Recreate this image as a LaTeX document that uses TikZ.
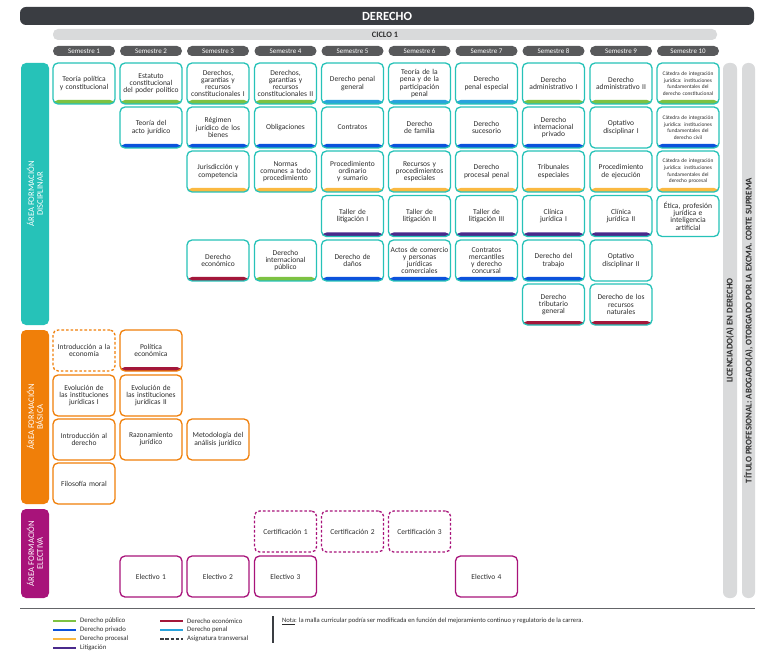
\documentclass[tikz,border=0pt]{standalone}
\usepackage{fontspec}
\setmainfont{Carlito}
\definecolor{TealC}{RGB}{38,194,184}
\definecolor{GreenC}{RGB}{125,194,66}
\definecolor{BlueC}{RGB}{12,82,220}
\definecolor{YellowC}{RGB}{251,185,65}
\definecolor{PurpleC}{RGB}{74,42,140}
\definecolor{RedC}{RGB}{163,23,58}
\definecolor{PenalC}{RGB}{41,163,220}
\definecolor{OrangeC}{RGB}{240,127,9}
\definecolor{MagC}{RGB}{168,19,122}
\definecolor{HeadC}{RGB}{58,61,66}
\definecolor{PillC}{RGB}{88,89,91}
\definecolor{BarC}{RGB}{217,218,219}
\definecolor{TextC}{RGB}{45,45,45}
\definecolor{LineC}{RGB}{100,101,104}
\begin{document}
\begin{tikzpicture}[x=1pt,y=-1pt,
  box/.style={draw=TealC, line width=1.3pt, rounded corners=5pt, fill=white,
    minimum width=62pt, minimum height=41pt, text width=61pt, inner sep=0.5pt,
    align=center, font=\fontsize{7.5}{7.1}\selectfont, text=TextC},
  obox/.style={box, draw=OrangeC},
  mbox/.style={box, draw=MagC},
  dashbox/.style={dash pattern=on 2.6pt off 2pt},
  small/.style={font=\fontsize{5.4}{6.7}\selectfont},
  strip/.style={path picture={\fill[#1] (path picture bounding box.south west) rectangle ([yshift=4pt]path picture bounding box.south east);}},
  sem/.style={fill=PillC, rounded corners=5pt, minimum width=62pt, minimum height=10pt,
    inner sep=0pt, text=white, font=\fontsize{7}{7}\selectfont},
  area/.style={rounded corners=5pt, minimum height=28pt, inner sep=0pt, rotate=90,
    text=white, align=center, font=\fontsize{8.6}{8.8}\selectfont},
  vbar/.style={fill=BarC, rounded corners=6pt, inner sep=0pt, rotate=90,
    text=TextC, font=\bfseries\fontsize{8.8}{9}\selectfont},
  leg/.style={anchor=west, inner sep=0pt, text=TextC, font=\fontsize{6.8}{7}\selectfont}
]
\useasboundingbox[fill=white] (0,0) rectangle (768,660);

% header
\node[fill=HeadC, rounded corners=6pt, minimum width=734pt, minimum height=18pt, inner sep=0pt,
  text=white, font=\bfseries\fontsize{12.5}{13}\selectfont] (head) at (387,16) {DERECHO};
\node[fill=BarC, rounded corners=5pt, minimum width=664pt, minimum height=11pt, inner sep=0pt,
  text=TextC, font=\bfseries\fontsize{8.3}{8.5}\selectfont] (ciclo) at (385,34.5) {CICLO 1};

% semesters
\node[sem] (s1) at (84,51) {Semestre 1};
\node[sem] (s2) at (151,51) {Semestre 2};
\node[sem] (s3) at (218,51) {Semestre 3};
\node[sem] (s4) at (285.5,51) {Semestre 4};
\node[sem] (s5) at (352.5,51) {Semestre 5};
\node[sem] (s6) at (419.5,51) {Semestre 6};
\node[sem] (s7) at (486.5,51) {Semestre 7};
\node[sem] (s8) at (553.5,51) {Semestre 8};
\node[sem] (s9) at (621,51) {Semestre 9};
\node[sem] (s10) at (688,51) {Semestre 10};

% area bars
\node[area, fill=TealC, minimum width=262pt] (adis) at (35,194) {ÁREA FORMACIÓN\\DISCIPLINAR};
\node[area, fill=OrangeC, minimum width=174pt] (abas) at (35,417) {ÁREA FORMACIÓN\\BÁSICA};
\node[area, fill=MagC, minimum width=89pt] (aele) at (35,553.5) {ÁREA FORMACIÓN\\ELECTIVA};

% right bars
\node[vbar, minimum width=535pt, minimum height=14pt] (lic) at (730,330.5) {LICENCIADO(A) EN DERECHO};
\node[vbar, minimum width=535pt, minimum height=13pt] (tit) at (748.5,330.5) {TÍTULO PROFESIONAL: ABOGADO(A), OTORGADO POR LA EXCMA. CORTE SUPREMA};

% row 1
\node[box, strip=GreenC] (d11) at (84,83.5) {Teoría política\\y constitucional};
\node[box, strip=GreenC] (d12) at (151,83.5) {Estatuto\\constitucional\\del poder político};
\node[box, strip=GreenC] (d13) at (218,83.5) {Derechos,\\garantías y\\recursos\\constitucionales I};
\node[box, strip=GreenC] (d14) at (285.5,83.5) {Derechos,\\garantías y\\recursos\\constitucionales II};
\node[box, strip=PenalC] (d15) at (352.5,83.5) {Derecho penal\\general};
\node[box, strip=PenalC] (d16) at (419.5,83.5) {Teoría de la\\pena y de la\\participación\\penal};
\node[box, strip=PenalC] (d17) at (486.5,83.5) {Derecho\\penal especial};
\node[box, strip=GreenC] (d18) at (553.5,83.5) {Derecho\\administrativo I};
\node[box, strip=GreenC] (d19) at (621,83.5) {Derecho\\administrativo II};
\node[box, small, strip=GreenC] (d110) at (688,83.5) {Cátedra de integración\\jurídica: instituciones\\fundamentales del\\derecho constitucional};

% row 2
\node[box, strip=BlueC] (d22) at (151,127.5) {Teoría del\\acto jurídico};
\node[box, strip=BlueC] (d23) at (218,127.5) {Régimen\\jurídico de los\\bienes};
\node[box, strip=BlueC] (d24) at (285.5,127.5) {Obligaciones};
\node[box, strip=BlueC] (d25) at (352.5,127.5) {Contratos};
\node[box, strip=BlueC] (d26) at (419.5,127.5) {Derecho\\de familia};
\node[box, strip=BlueC] (d27) at (486.5,127.5) {Derecho\\sucesorio};
\node[box, strip=BlueC] (d28) at (553.5,127.5) {Derecho\\internacional\\privado};
\node[box] (d29) at (621,127.5) {Optativo\\disciplinar I};
\node[box, small, strip=BlueC] (d210) at (688,127.5) {Cátedra de integración\\jurídica: instituciones\\fundamentales del\\derecho civil};

% row 3
\node[box, strip=YellowC] (d33) at (218,171.5) {Jurisdicción y\\competencia};
\node[box, strip=YellowC] (d34) at (285.5,171.5) {Normas\\comunes a todo\\procedimiento};
\node[box, strip=YellowC] (d35) at (352.5,171.5) {Procedimiento\\ordinario\\y sumario};
\node[box, strip=YellowC] (d36) at (419.5,171.5) {Recursos y\\procedimientos\\especiales};
\node[box, strip=YellowC] (d37) at (486.5,171.5) {Derecho\\procesal penal};
\node[box, strip=YellowC] (d38) at (553.5,171.5) {Tribunales\\especiales};
\node[box, strip=YellowC] (d39) at (621,171.5) {Procedimiento\\de ejecución};
\node[box, small, strip=YellowC] (d310) at (688,171.5) {Cátedra de integración\\jurídica: instituciones\\fundamentales del\\derecho procesal};

% row 4
\node[box, strip=PurpleC] (d45) at (352.5,216) {Taller de\\litigación I};
\node[box, strip=PurpleC] (d46) at (419.5,216) {Taller de\\litigación II};
\node[box, strip=PurpleC] (d47) at (486.5,216) {Taller de\\litigación III};
\node[box, strip=PurpleC] (d48) at (553.5,216) {Clínica\\jurídica I};
\node[box, strip=PurpleC] (d49) at (621,216) {Clínica\\jurídica II};
\node[box, font=\fontsize{7.6}{7.4}\selectfont] (d410) at (688,216) {Ética, profesión\\jurídica e\\inteligencia\\artificial};

% row 5
\node[box, strip=RedC] (d53) at (218,260.5) {Derecho\\económico};
\node[box, strip=GreenC] (d54) at (285.5,260.5) {Derecho\\internacional\\público};
\node[box, strip=BlueC] (d55) at (352.5,260.5) {Derecho de\\daños};
\node[box, strip=BlueC] (d56) at (419.5,260.5) {Actos de comercio\\y personas\\jurídicas\\comerciales};
\node[box, strip=BlueC] (d57) at (486.5,260.5) {Contratos\\mercantiles\\y derecho\\concursal};
\node[box, strip=BlueC] (d58) at (553.5,260.5) {Derecho del\\trabajo};
\node[box] (d59) at (621,260.5) {Optativo\\disciplinar II};

% row 6
\node[box, strip=RedC] (d68) at (553.5,304.5) {Derecho\\tributario\\general};
\node[box, strip=RedC] (d69) at (621,304.5) {Derecho de los\\recursos\\naturales};

% basic area
\node[obox, dashbox] (b11) at (84,350.5) {Introducción a la\\economía};
\node[obox, strip=RedC] (b12) at (151,350.5) {Política\\económica};
\node[obox] (b21) at (84,395.5) {Evolución de\\las instituciones\\jurídicas I};
\node[obox] (b22) at (151,395.5) {Evolución de\\las instituciones\\jurídicas II};
\node[obox] (b31) at (84,439.5) {Introducción al\\derecho};
\node[obox] (b32) at (151,439.5) {Razonamiento\\jurídico};
\node[obox] (b33) at (218,439.5) {Metodología del\\análisis jurídico};
\node[obox] (b41) at (84,483.5) {Filosofía moral};

% elective area
\node[mbox, dashbox] (e14) at (285.5,531.5) {Certificación 1};
\node[mbox, dashbox] (e15) at (352.5,531.5) {Certificación 2};
\node[mbox, dashbox] (e16) at (419.5,531.5) {Certificación 3};
\node[mbox] (e22) at (151,576.5) {Electivo 1};
\node[mbox] (e23) at (218,576.5) {Electivo 2};
\node[mbox] (e24) at (285.5,576.5) {Electivo 3};
\node[mbox] (e27) at (486.5,576.5) {Electivo 4};

% separator
\draw[LineC, line width=1pt] (20,608.5) -- (755,608.5);

% legend
\draw[GreenC, line width=1.8pt] (53,621) -- (76,621);
\node[leg] (l1) at (80,621) {Derecho público};
\draw[BlueC, line width=1.8pt] (53,630) -- (76,630);
\node[leg] (l2) at (80,630) {Derecho privado};
\draw[YellowC, line width=1.8pt] (53,639) -- (76,639);
\node[leg] (l3) at (80,639) {Derecho procesal};
\draw[PurpleC, line width=1.8pt] (53,648) -- (76,648);
\node[leg] (l4) at (80,648) {Litigación};
\draw[RedC, line width=1.8pt] (160,621) -- (183,621);
\node[leg] (l5) at (187,621) {Derecho económico};
\draw[PenalC, line width=1.8pt] (160,630) -- (183,630);
\node[leg] (l6) at (187,630) {Derecho penal};
\draw[HeadC, line width=1.8pt, dash pattern=on 3.5pt off 1.8pt] (160,639) -- (183,639);
\node[leg] (l7) at (187,639) {Asignatura transversal};

\draw[HeadC, line width=1.6pt] (273,616) -- (273,643);
\node[leg, font=\fontsize{6.6}{7}\selectfont] (nota) at (282,621) {\underline{Nota}: la malla curricular podría ser modificada en función del mejoramiento continuo y regulatorio de la carrera.};
\end{tikzpicture}
\end{document}
